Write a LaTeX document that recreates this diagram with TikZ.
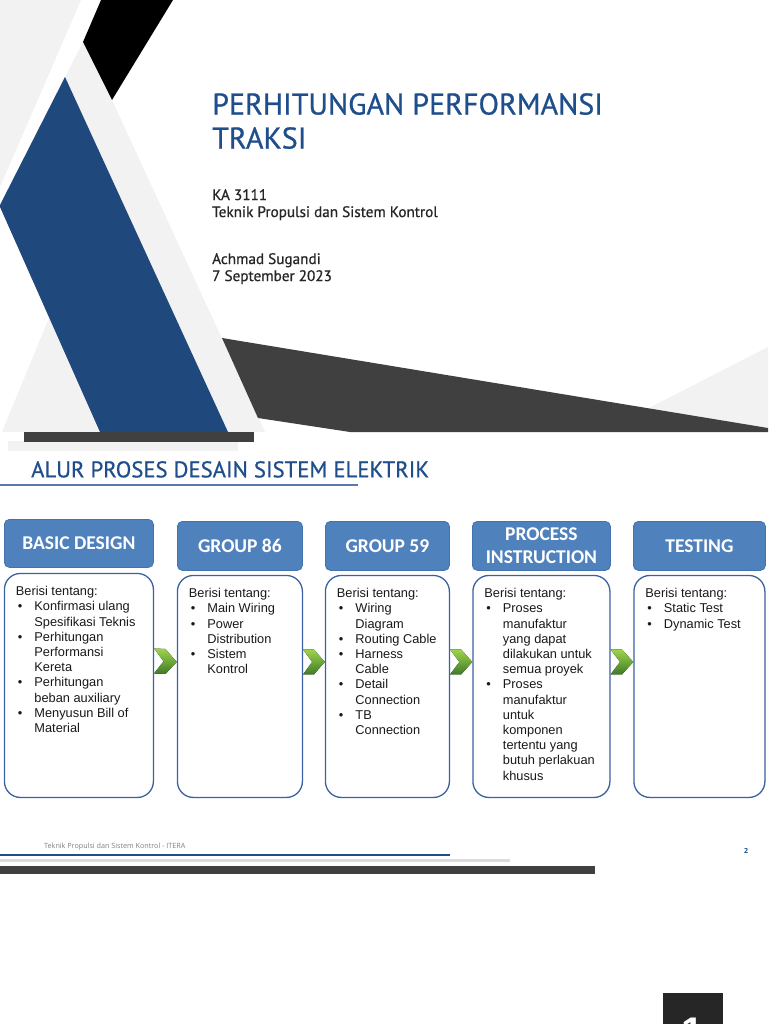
\documentclass[tikz,border=0pt]{standalone}
\usepackage{fontspec}
\setmainfont{Liberation Sans}
\newfontfamily\titlefont[FakeBold=0.7]{PT Sans}
\newfontfamily\headfont{Carlito}
\newfontfamily\footfont{Open Sans}
\usepackage{xcolor}
\usetikzlibrary{positioning, calc}

\definecolor{titleblue}{HTML}{1F4E8C}
\definecolor{bandblue}{HTML}{1F497D}
\definecolor{lightgrey}{HTML}{F2F2F2}
\definecolor{darkgrey}{HTML}{404040}
\definecolor{headblue}{HTML}{4F81BD}
\definecolor{headedge}{HTML}{4273AE}
\definecolor{boxedge}{HTML}{3A62A0}
\definecolor{chevtop}{HTML}{9ED54C}
\definecolor{chevbot}{HTML}{3F7A26}

\newcommand{\itm}{\hspace*{2pt}\makebox[16.5pt][l]{•}}
\newcommand{\cnt}{\hspace*{18.5pt}}

\begin{document}
\begin{tikzpicture}[x=1pt, y=-1pt,
    head/.style={draw=headedge, fill=headblue, rounded corners=5pt, line width=0.8pt, align=center, text=white, inner sep=0pt, font=\headfont\bfseries\fontsize{19.5}{23}\selectfont},
    body/.style={draw=boxedge, fill=white, rounded corners=16pt, line width=1.3pt, inner sep=0pt},
    boxtext/.style={align=left, inner sep=0pt, anchor=north west, text=black!90, font=\fontsize{12.8}{15.2}\selectfont},
    chev/.style={top color=chevtop, bottom color=chevbot}]

\clip (0,0) rectangle (768,1024);
\fill[white] (0,0) rectangle (768,1024);

% cover slide
\fill[lightgrey] (0,0) -- (81,0) -- (0,187) -- cycle;
\fill[lightgrey] (83,42) -- (112,100) -- (265,432) -- (2,432) -- (49,318) -- (0,205) -- cycle;
\fill[black] (101,0) -- (173,0) -- (112,100) -- (83,42) -- cycle;
\fill[bandblue] (65,77) -- (228,432) -- (100,432) -- (0,207) -- (0,205) -- cycle;
\fill[lightgrey] (645,410) -- (768,347) -- (768,432) -- cycle;
\fill[darkgrey] (222,338) -- (768,428) -- (768,432) -- (350,432) -- (258,418) -- cycle;
\fill[lightgrey] (8,441) rectangle (238,451);
\fill[darkgrey] (24,432) rectangle (254,442);

\node[anchor=north west, align=left, inner sep=0pt, text=titleblue, font=\titlefont\fontsize{30}{34}\selectfont] (title) at (212,93) {PERHITUNGAN PERFORMANSI\\TRAKSI};
\node[anchor=north west, align=left, inner sep=0pt, text=black!85, font=\titlefont\fontsize{15.2}{17}\selectfont] (course) at (212,189) {KA 3111\\Teknik Propulsi dan Sistem Kontrol};
\node[anchor=north west, align=left, inner sep=0pt, text=black!85, font=\titlefont\fontsize{15.2}{17}\selectfont] (author) at (212,253) {Achmad Sugandi\\7 September 2023};

% process slide
\node[anchor=north west, inner sep=0pt, text=titleblue, font=\titlefont\fontsize{22.7}{26}\selectfont] (heading) at (31,461) {ALUR PROSES DESAIN SISTEM ELEKTRIK};
\draw[titleblue!75, line width=1.2pt] (0,485) -- (358,485);

\node[head, minimum width=149pt, minimum height=48pt, anchor=north west] (hd1) at (4,519) {BASIC DESIGN};
\node[head, minimum width=125pt, minimum height=49pt, anchor=north west] (hd2) at (177,521) {GROUP 86};
\node[head, minimum width=124pt, minimum height=49pt, anchor=north west] (hd3) at (325,521) {GROUP 59};
\node[head, minimum width=138pt, minimum height=49pt, anchor=north west] (hd4) at (472,521) {PROCESS\\INSTRUCTION};
\node[head, minimum width=132pt, minimum height=49pt, anchor=north west] (hd5) at (633,521) {TESTING};

\node[body, minimum width=149pt, minimum height=224pt, below=5pt of hd1] (bd1) {};
\node[body, minimum width=125pt, minimum height=222pt, below=4pt of hd2] (bd2) {};
\node[body, minimum width=124pt, minimum height=222pt, below=4pt of hd3] (bd3) {};
\node[body, minimum width=137pt, minimum height=222pt, below=4pt of hd4] (bd4) {};
\node[body, minimum width=131pt, minimum height=222pt, below=4pt of hd5] (bd5) {};

\node[boxtext] (tx1) at ([xshift=12pt, yshift=-13.5pt]bd1.north west) {Berisi tentang:\\
  \itm Konfirmasi ulang\\ \cnt Spesifikasi Teknis\\
  \itm Perhitungan\\ \cnt Performansi\\ \cnt Kereta\\
  \itm Perhitungan\\ \cnt beban auxiliary\\
  \itm Menyusun Bill of\\ \cnt Material};
\node[boxtext] (tx2) at ([xshift=12pt, yshift=-13.5pt]bd2.north west) {Berisi tentang:\\
  \itm Main Wiring\\
  \itm Power\\ \cnt Distribution\\
  \itm Sistem\\ \cnt Kontrol};
\node[boxtext] (tx3) at ([xshift=12pt, yshift=-13.5pt]bd3.north west) {Berisi tentang:\\
  \itm Wiring\\ \cnt Diagram\\
  \itm Routing Cable\\
  \itm Harness\\ \cnt Cable\\
  \itm Detail\\ \cnt Connection\\
  \itm TB\\ \cnt Connection};
\node[boxtext] (tx4) at ([xshift=12pt, yshift=-13.5pt]bd4.north west) {Berisi tentang:\\
  \itm Proses\\ \cnt manufaktur\\ \cnt yang dapat\\ \cnt dilakukan untuk\\ \cnt semua proyek\\
  \itm Proses\\ \cnt manufaktur\\ \cnt untuk\\ \cnt komponen\\ \cnt tertentu yang\\ \cnt butuh perlakuan\\ \cnt khusus};
\node[boxtext] (tx5) at ([xshift=12pt, yshift=-13.5pt]bd5.north west) {Berisi tentang:\\
  \itm Static Test\\
  \itm Dynamic Test};

% green chevrons
\foreach \a/\b in {bd1/bd2, bd2/bd3, bd3/bd4, bd4/bd5}
  \fill[chev] ($(\a.east)+(0,-37)$) -- ($(\a.east)!0.5!(\b.west)+(0,-37)$) -- ($(\b.west)+(0,-24.5)$)
    -- ($(\a.east)!0.5!(\b.west)+(0,-12)$) -- ($(\a.east)+(0,-12)$) -- ($(\a.east)!0.42!(\b.west)+(0,-24.5)$) -- cycle;

% footer
\node[anchor=base west, inner sep=0pt, text=black!50, font=\footfont\fontsize{7.2}{8}\selectfont] (foot) at (44,848) {Teknik Propulsi dan Sistem Kontrol - ITERA};
\node[anchor=base, inner sep=0pt, text=titleblue, font=\footfont\bfseries\fontsize{7}{8}\selectfont] (pgnum) at (746,853) {2};
\draw[titleblue, line width=2pt] (0,855) -- (450,855);
\draw[black!14, line width=3pt] (0,860.5) -- (510,860.5);
\fill[darkgrey] (0,866) rectangle (595,874);
\fill[black!85] (663,993) rectangle (723,1024);
\node[anchor=north, inner sep=0pt, text=white, font=\bfseries\fontsize{40}{40}\selectfont] (nextnum) at (693,1018) {1};
\end{tikzpicture}
\end{document}
